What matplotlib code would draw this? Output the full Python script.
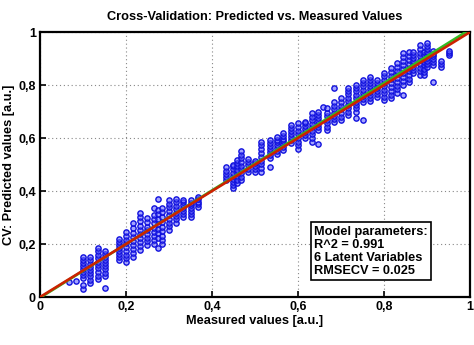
import numpy as np
import matplotlib
matplotlib.use("Agg")
import matplotlib.pyplot as plt

plt.rcParams["font.family"] = ["Liberation Sans", "DejaVu Sans"]
plt.rcParams["font.weight"] = "bold"

# Measured reference levels and the cross-validated predictions at each level
measured_levels = [
    0.068, 0.083, 0.099, 0.116, 0.134, 0.151, 0.184, 0.200, 0.217, 0.233,
    0.248, 0.266, 0.275, 0.284, 0.300, 0.316, 0.333, 0.350, 0.367,
    0.432, 0.448, 0.457, 0.467, 0.483, 0.500, 0.515, 0.535, 0.550, 0.566,
    0.583, 0.600, 0.616, 0.632, 0.647, 0.657, 0.667, 0.684, 0.700, 0.717,
    0.734, 0.752, 0.767, 0.783, 0.800, 0.816, 0.830, 0.845, 0.859, 0.868,
    0.884, 0.893, 0.900, 0.915, 0.932, 0.950,
]

predicted_by_level = [
    [0.058],
    [0.062],
    [0.030, 0.045, 0.071, 0.083, 0.094, 0.105, 0.116, 0.127, 0.139, 0.151],
    [0.054, 0.066, 0.078, 0.090, 0.101, 0.113, 0.125, 0.138, 0.151],
    [0.068, 0.081, 0.095, 0.108, 0.121, 0.134, 0.147, 0.160, 0.172, 0.185],
    [0.034, 0.080, 0.092, 0.105, 0.117, 0.129, 0.141, 0.152, 0.164, 0.175],
    [0.140, 0.152, 0.163, 0.175, 0.186, 0.197, 0.209, 0.220],
    [0.133, 0.147, 0.160, 0.174, 0.188, 0.203, 0.217, 0.231, 0.246],
    [0.152, 0.167, 0.182, 0.197, 0.212, 0.227, 0.243, 0.259, 0.280],
    [0.177, 0.192, 0.207, 0.222, 0.238, 0.254, 0.270, 0.287, 0.302, 0.318],
    [0.196, 0.210, 0.224, 0.238, 0.252, 0.266, 0.282, 0.298],
    [0.200, 0.215, 0.230, 0.246, 0.262, 0.278, 0.294, 0.310, 0.335],
    [0.185, 0.222, 0.240, 0.258, 0.276, 0.294, 0.312, 0.330, 0.370],
    [0.200, 0.216, 0.232, 0.249, 0.266, 0.284, 0.302, 0.320, 0.335],
    [0.253, 0.267, 0.281, 0.295, 0.310, 0.324, 0.338, 0.352, 0.366],
    [0.280, 0.293, 0.306, 0.318, 0.331, 0.344, 0.357, 0.370],
    [0.303, 0.314, 0.325, 0.336, 0.347, 0.357, 0.366],
    [0.303, 0.314, 0.324, 0.335, 0.346, 0.356, 0.366],
    [0.340, 0.350, 0.359, 0.369, 0.378],
    [0.440, 0.452, 0.465, 0.477, 0.490],
    [0.410, 0.422, 0.434, 0.446, 0.458, 0.470, 0.482, 0.494, 0.500],
    [0.430, 0.442, 0.455, 0.468, 0.481, 0.494, 0.506, 0.517],
    [0.440, 0.454, 0.468, 0.482, 0.496, 0.510, 0.523, 0.537, 0.550],
    [0.473, 0.485, 0.497, 0.508, 0.520],
    [0.473, 0.484, 0.494, 0.505, 0.515],
    [0.473, 0.487, 0.501, 0.515, 0.530, 0.544, 0.558, 0.572, 0.586],
    [0.490, 0.524, 0.535, 0.547, 0.558, 0.570, 0.581, 0.592],
    [0.540, 0.551, 0.562, 0.573, 0.584, 0.594, 0.605],
    [0.555, 0.566, 0.577, 0.588, 0.598, 0.609, 0.620],
    [0.580, 0.592, 0.603, 0.615, 0.627, 0.638, 0.650],
    [0.560, 0.573, 0.587, 0.600, 0.614, 0.628, 0.642, 0.657],
    [0.600, 0.611, 0.622, 0.633, 0.644, 0.655, 0.660],
    [0.586, 0.600, 0.614, 0.627, 0.640, 0.654, 0.667, 0.681, 0.694],
    [0.577, 0.630, 0.642, 0.654, 0.665, 0.677, 0.688, 0.700],
    [0.718],
    [0.630, 0.643, 0.656, 0.669, 0.682, 0.695, 0.713],
    [0.660, 0.672, 0.684, 0.696, 0.708, 0.720, 0.735, 0.790],
    [0.667, 0.681, 0.695, 0.709, 0.722, 0.736, 0.750],
    [0.687, 0.700, 0.713, 0.726, 0.739, 0.752, 0.765, 0.778, 0.790],
    [0.675, 0.700, 0.712, 0.725, 0.738, 0.750, 0.763, 0.776, 0.788, 0.800],
    [0.668, 0.735, 0.747, 0.759, 0.771, 0.783, 0.795, 0.808, 0.820],
    [0.740, 0.751, 0.763, 0.774, 0.786, 0.797, 0.808, 0.819, 0.830],
    [0.755, 0.766, 0.777, 0.788, 0.798, 0.809, 0.820],
    [0.743, 0.756, 0.769, 0.782, 0.795, 0.808, 0.820, 0.833, 0.845],
    [0.750, 0.764, 0.779, 0.793, 0.807, 0.822, 0.836, 0.851, 0.865],
    [0.770, 0.784, 0.798, 0.812, 0.826, 0.840, 0.855, 0.869, 0.883],
    [0.762, 0.800, 0.815, 0.830, 0.845, 0.860, 0.875, 0.890, 0.905, 0.920],
    [0.810, 0.824, 0.838, 0.852, 0.866, 0.880, 0.895, 0.910, 0.925],
    [0.845, 0.856, 0.867, 0.878, 0.890, 0.902, 0.914, 0.925],
    [0.838, 0.852, 0.866, 0.880, 0.894, 0.908, 0.922, 0.936, 0.950],
    [0.838, 0.850, 0.862, 0.875, 0.888, 0.900, 0.913, 0.925],
    [0.870, 0.881, 0.892, 0.903, 0.914, 0.925, 0.936, 0.947, 0.958],
    [0.810, 0.875, 0.886, 0.897, 0.908, 0.919, 0.930],
    [0.870, 0.880, 0.890],
    [0.913, 0.921, 0.930],
]

tick_values = [0, 0.2, 0.4, 0.6, 0.8, 1]
tick_labels = ["0", "0,2", "0,4", "0,6", "0,8", "1"]
model_text = ["Model parameters:", "R^2 = 0.991", "6 Latent Variables", "RMSECV = 0.025"]

x = np.concatenate([[m] * len(p) for m, p in zip(measured_levels, predicted_by_level)])
y = np.concatenate(predicted_by_level)

fig = plt.figure(figsize=(4.74, 3.45), dpi=100)
ax = fig.add_axes([0.0844, 0.139, 0.9072, 0.768])

ax.plot(x, y, "o", ms=3.8, mfc=(0.35, 0.35, 1.0, 0.55), mec="#1111dd", mew=1.0, zorder=3)

# least-squares fit (green) under the ideal 1:1 line (red)
slope, intercept = np.polyfit(x, y, 1)
line_x = np.array([0.0, 1.0])
ax.plot(line_x, slope * line_x + intercept, color="#33bb22", lw=1.9, zorder=4)
ax.plot(line_x, line_x, color="#cc2200", lw=1.9, zorder=5)

ax.set_xlim(0, 1)
ax.set_ylim(0, 1)
ax.set_xticks(tick_values)
ax.set_xticklabels(tick_labels)
ax.set_yticks(tick_values)
ax.set_yticklabels(tick_labels)
ax.tick_params(direction="in", length=4, width=1.2, labelsize=9, pad=3)
for lab in ax.get_xticklabels() + ax.get_yticklabels():
    lab.set_fontweight("bold")
for sp in ax.spines.values():
    sp.set_linewidth(1.6)
ax.grid(True, linestyle=(0, (1, 2.5)), color="#888888", lw=0.8)

ax.set_title("Cross-Validation: Predicted vs. Measured Values", fontsize=9.2,
             fontweight="bold", pad=9)
ax.set_xlabel("Measured values [a.u.]", fontsize=9.2, fontweight="bold", labelpad=1)
ax.set_ylabel("CV: Predicted values [a.u.]", fontsize=9.2, fontweight="bold", labelpad=2)

ax.text(0.638, 0.076, "\n".join(model_text), fontsize=9.2, fontweight="bold",
        linespacing=1.12, va="bottom", ha="left", zorder=6,
        bbox=dict(boxstyle="square,pad=0.25", fc="white", ec="black", lw=1.2))

fig.savefig("out.png", dpi=100)
